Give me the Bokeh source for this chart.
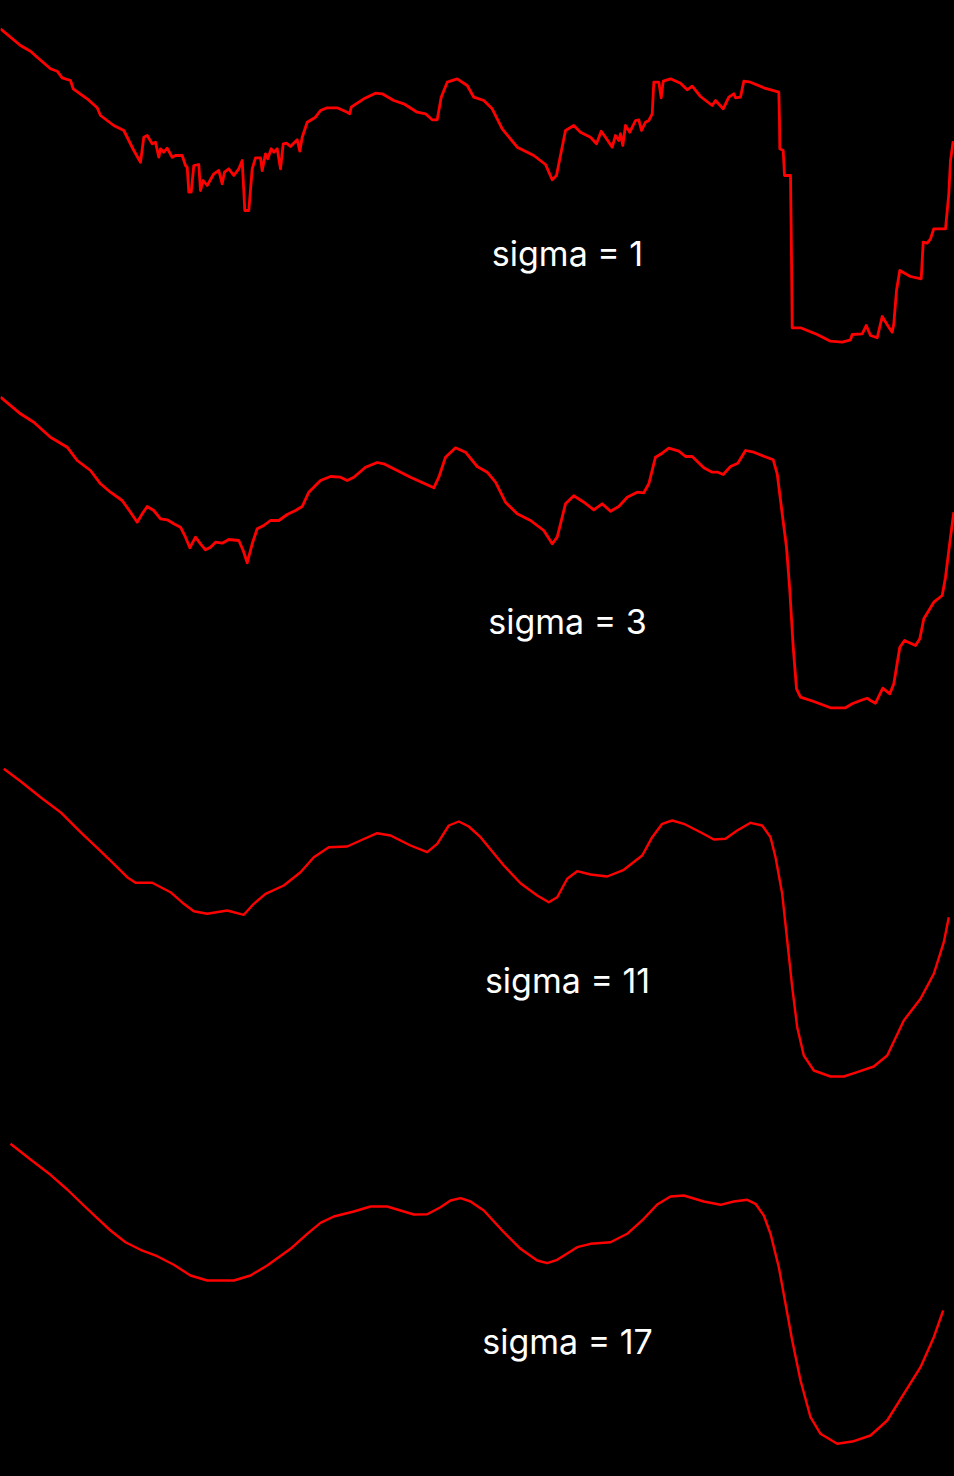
from bokeh.plotting import figure
from bokeh.layouts import column
from bokeh.models import Range1d, Label
from bokeh.embed import file_html
from bokeh.resources import INLINE

# ---- data: signal smoothed with gaussian of different sigma ----
sigmas = [1, 3, 11, 17]

x_s1 = [0, 20, 30, 36.7, 50, 56.7, 61.7, 70, 72.7, 86.7, 96.7, 100, 113.3, 123.3, 133.3, 140, 143.3, 146.7,
        151.7, 155, 158.3, 160, 163.3, 166.7, 171.7, 175, 181.7, 185, 186.7, 188.3, 190.7, 193.3, 198.3, 200,
        202.7, 206.7, 213.3, 218.3, 221.7, 224, 228.3, 233.3, 238.3, 241.7, 244.3, 248.3, 251.7, 255, 260,
        261.7, 265, 267.3, 270.7, 273.3, 276.7, 280, 282.7, 286, 290, 296.7, 299.3, 301.7, 306.7, 315, 320,
        326.7, 336.7, 346.7, 349.3, 350.7, 363.3, 375, 381.7, 393.3, 403.3, 416.7, 425, 431.7, 436.7, 440.7,
        446.7, 456.7, 466.7, 473.3, 483.3, 491.7, 501.7, 516.7, 533.3, 545, 551.7, 556, 558.3, 565, 573.3,
        580, 590, 596, 600.7, 605, 611.7, 615, 618.3, 620, 622.3, 625, 629.3, 635, 638.3, 641, 645, 648.3,
        651.7, 653.3, 658.3, 660.7, 662.7, 670, 680, 686.7, 691.7, 700, 711.7, 715, 722.7, 728.3, 733.3, 735,
        740, 743.3, 750, 763.3, 778.3, 779, 779.3, 782.7, 784, 790, 791, 791.7, 800, 816.7, 830, 841.7, 850,
        851.7, 861.7, 865.7, 870, 876.7, 881.7, 888.3, 891.7, 893.3, 896, 899.3, 910, 920.7, 922.7, 926.7,
        930, 933.3, 945, 948.3, 950, 952.7]
y_s1 = [340.7, 324, 318.3, 312.3, 300.7, 298.3, 291.7, 289, 280.7, 270.7, 261.7, 254, 244, 239, 219, 207.3,
        232.3, 234, 225.7, 227.3, 212.3, 220.7, 217.3, 221.3, 212.3, 214, 214, 204, 202.3, 177.3, 177.3, 204,
        205, 179, 189, 184, 195.7, 199, 185.7, 197.3, 200.7, 194, 200.7, 209, 159, 159, 200.7, 211.7, 211.7,
        199, 215.7, 210.7, 220.7, 217.3, 220.7, 200.7, 225.7, 226.3, 223, 229.7, 218.3, 232.3, 247.3, 252.3,
        259, 261.7, 261.7, 257.3, 255.7, 262.3, 270.7, 276.3, 275.7, 269, 265.7, 257.3, 255.7, 249.7, 249.7,
        272.3, 287.3, 290.7, 284, 272.3, 269, 260.7, 240.7, 222.3, 214, 205, 189.7, 194, 205.7, 239, 244,
        237.3, 232.3, 225.7, 238.3, 232.3, 222.3, 234, 229, 235.7, 224, 244, 237.3, 249, 249.7, 239, 247.3,
        249, 255.7, 287.3, 287.3, 271.7, 288.3, 290.7, 286.3, 279.7, 283.3, 273, 264, 269, 260.7, 272.3,
        275.7, 271.7, 272.3, 288.3, 287.3, 281.7, 277.3, 249, 220.7, 219, 194, 194, 112.3, 41.7, 41.7, 35,
        28.3, 27.3, 29.7, 35, 35.7, 44, 34, 31.7, 53, 42.3, 37.3, 45.7, 79, 99, 93, 90.7, 127.3, 126.3,
        130.7, 140.7, 140.7, 175.7, 209, 228.3]

x_s3 = [0, 20, 33.3, 50, 66.7, 76.7, 90, 100, 110, 121.7, 130, 136.7, 141.7, 146.7, 153.3, 160, 166.7, 173.3,
        180, 185, 189.3, 195, 200, 205, 210, 215, 221.7, 228.3, 238.3, 242.7, 246.7, 251.7, 256.7, 263.3, 270,
        278.3, 286.7, 295, 301.7, 308.3, 320, 330, 340, 346.7, 353.3, 365, 376.7, 383.3, 396.7, 410, 423.3,
        433.3, 438.3, 445, 455, 465, 476.7, 486.7, 495, 505, 516.7, 530, 543.3, 551.7, 556.7, 565, 573.3,
        583.3, 593.3, 601.7, 610, 618.3, 626.7, 636.7, 643.3, 648.3, 655, 661.7, 668.3, 678.3, 685, 691.7,
        703.3, 711.7, 717.3, 722.7, 730, 737.3, 745, 753.3, 763.3, 772.7, 776.7, 781.7, 786, 789.3, 792.7,
        796, 800, 813.3, 830, 845, 851.7, 860, 866.7, 870, 875, 882.3, 889.3, 893.3, 899.3, 904, 915, 919.3,
        923.3, 933.3, 941.7, 945, 950, 953.3]
y_s3 = [341.3, 324.7, 316.3, 301.3, 291.3, 278, 268, 254.7, 246.3, 238, 226.3, 216.3, 224.7, 232, 228, 219.7,
        218.7, 214.7, 211.3, 201.3, 190.7, 201.3, 194.7, 188.7, 191.3, 196.3, 195.3, 199, 198, 188, 175.7,
        194.7, 209.7, 213, 218, 218, 224, 228, 232, 246.3, 258, 262, 261.3, 258, 261.3, 271.3, 276, 274.7,
        268, 261.3, 255.3, 250.7, 261.3, 281.3, 290.7, 286.3, 272, 266.3, 256.3, 236.3, 224.7, 218, 208,
        194.7, 201.3, 234.7, 242.7, 236.3, 228.7, 234.7, 227.3, 232, 241.3, 246.3, 245.7, 254.7, 281.3,
        285.3, 290.3, 287.3, 282, 282, 270.7, 266.3, 266.3, 264, 272, 275.3, 288, 286.3, 282.3, 278.7, 264.7,
        224.7, 191.3, 148, 91.3, 49.7, 41.3, 37, 30.7, 30.7, 34.7, 38, 40.3, 38, 35.3, 50.3, 44.7, 54.7,
        91.3, 98, 93, 99.7, 119.7, 136.3, 143, 161.3, 201.3, 226.3]

x_s11 = [3.3, 20, 40, 60, 80, 96.7, 113.3, 126.7, 135, 151.7, 170, 183.3, 193.3, 206.7, 226.7, 243.3, 253.3,
         265, 283.3, 300, 313.3, 328.3, 346.7, 360, 376.7, 390, 410, 426.7, 436.7, 448.3, 458.3, 468.3, 480,
         503.3, 520, 536.7, 548.3, 556.7, 566.7, 576.7, 590, 606.7, 623.3, 641.7, 651.7, 661.7, 671.7, 683.3,
         700, 713.3, 725, 736.7, 750, 761.7, 770, 775, 781.7, 786.7, 791.7, 796.7, 803.3, 813.3, 830, 843.3,
         856.7, 873.3, 886.7, 903.3, 920, 933.3, 943.3, 948.3]
y_s11 = [338.7, 326.3, 310.3, 295.3, 275.3, 259.7, 243.7, 230.3, 224.7, 224.7, 215.3, 203.7, 196.3, 193.7,
         197, 192.7, 203.7, 213.7, 222, 235.3, 250.3, 260.3, 261, 267, 274.3, 272, 262, 255.3, 263.7, 282,
         286, 281, 270.3, 242, 224.3, 212, 205.3, 210.3, 228.7, 236.3, 233, 231, 237.7, 252, 270.3, 283.7,
         287, 283.7, 275.3, 268, 268.7, 277, 284.7, 282, 270.3, 250.3, 213.7, 167, 120.3, 80.3, 52, 37, 31,
         31, 35.3, 41, 52, 87, 108.7, 133.7, 165.3, 190.3]

x_s17 = [10, 30, 50, 66.7, 83.3, 96.7, 110, 125, 140, 156.7, 173.3, 190, 206.7, 233.3, 250, 266.7, 290, 306.7,
         320, 333.3, 353.3, 370, 386.7, 400, 413.3, 426.7, 440, 450, 460, 470, 483.3, 503.3, 520, 536.7,
         546.7, 556.7, 576.7, 590, 610, 626.7, 643.3, 656.7, 670, 683.3, 703.3, 720, 733.3, 746.7, 755, 763.3,
         770, 778.3, 785, 791.7, 800, 810, 820, 836.7, 853.3, 870, 886.7, 903.3, 920, 933.3, 942.7]
y_s17 = [332.7, 317, 301.7, 287, 271, 258.3, 246, 234.3, 226.7, 220.3, 211.7, 201, 196, 196, 201, 211, 227.7,
         242.7, 253.7, 260, 265, 270, 270, 266, 262, 262.3, 269.3, 276, 278.3, 275, 266, 244.3, 227.7, 216,
         213.3, 216.7, 229.3, 232.7, 234.3, 242.7, 257.7, 272, 280, 281, 275, 271.7, 275, 276.7, 272.7, 261,
         242.7, 209.3, 172.7, 136, 96, 59.3, 42.7, 32.7, 35.3, 41, 56, 82.7, 109.3, 139.3, 166]

series = [(x_s1, y_s1), (x_s3, y_s3), (x_s11, y_s11), (x_s17, y_s17)]

W, H = 954, 369
label_y = [116, 117, 127, 135]
label_x = 567
line_widths = [2.8, 2.8, 2.4, 2.4]

figs = []
for (xs, ys), sg, ly, lw in zip(series, sigmas, label_y, line_widths):
    p = figure(width=W, height=H, output_backend="svg", toolbar_location=None,
               x_range=Range1d(0, W), y_range=Range1d(0, H), min_border=0,
               background_fill_color="black", border_fill_color="black")
    p.axis.visible = False
    p.grid.visible = False
    p.outline_line_color = None
    p.line(xs, ys, line_color="#ff0000", line_width=lw, line_join="round")
    p.add_layout(Label(x=label_x, y=ly, text=f"sigma = {sg}", text_color="white",
                       text_font="Inter", text_font_size="34px",
                       text_align="center", text_baseline="middle"))
    figs.append(p)

layout = column(*figs, spacing=0)
html = file_html(layout, INLINE)
html = html.replace("</head>", "<style>html,body{margin:0;padding:0;background:#000;}</style></head>", 1)
open("out.html", "w").write(html)
